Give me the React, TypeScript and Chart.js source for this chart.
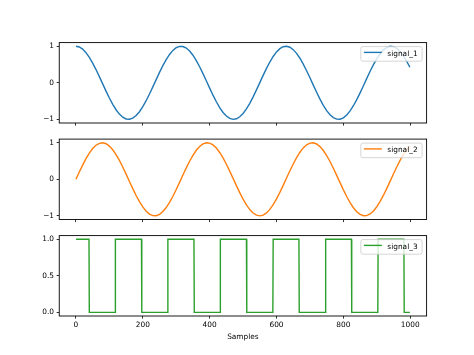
import React, { useEffect, useRef } from "react";
import { Chart, registerables } from "chart.js";

Chart.register(...registerables);

// ---- data ----
const sampleX = [
  0, 10, 20, 30, 40, 50, 60, 70, 80, 90,
  100, 110, 120, 130, 140, 150, 160, 170, 180, 190,
  200, 210, 220, 230, 240, 250, 260, 270, 280, 290,
  300, 310, 320, 330, 340, 350, 360, 370, 380, 390,
  400, 410, 420, 430, 440, 450, 460, 470, 480, 490,
  500, 510, 520, 530, 540, 550, 560, 570, 580, 590,
  600, 610, 620, 630, 640, 650, 660, 670, 680, 690,
  700, 710, 720, 730, 740, 750, 760, 770, 780, 790,
  800, 810, 820, 830, 840, 850, 860, 870, 880, 890,
  900, 910, 920, 930, 940, 950, 960, 970, 980, 990, 999,
];

const signal1 = [
  1.0, 0.98, 0.921, 0.825, 0.697, 0.54, 0.362, 0.17, -0.029, -0.227,
  -0.416, -0.589, -0.737, -0.857, -0.942, -0.99, -0.998, -0.967, -0.897, -0.791,
  -0.654, -0.49, -0.307, -0.112, 0.087, 0.284, 0.469, 0.635, 0.776, 0.886,
  0.96, 0.997, 0.993, 0.95, 0.869, 0.754, 0.608, 0.439, 0.251, 0.054,
  -0.146, -0.339, -0.519, -0.679, -0.811, -0.911, -0.975, -1.0, -0.985, -0.93,
  -0.839, -0.714, -0.561, -0.385, -0.194, 0.004, 0.203, 0.393, 0.568, 0.72,
  0.844, 0.934, 0.986, 0.999, 0.973, 0.907, 0.806, 0.672, 0.512, 0.331,
  0.137, -0.063, -0.26, -0.447, -0.615, -0.76, -0.874, -0.953, -0.994, -0.996,
  -0.958, -0.881, -0.77, -0.628, -0.461, -0.275, -0.079, 0.121, 0.316, 0.498,
  0.66, 0.796, 0.901, 0.969, 0.999, 0.989, 0.939, 0.852, 0.732, 0.581, 0.426,
];

const signal2 = [
  0.0, 0.199, 0.389, 0.565, 0.717, 0.841, 0.932, 0.985, 1.0, 0.974,
  0.909, 0.808, 0.675, 0.516, 0.335, 0.141, -0.058, -0.256, -0.443, -0.612,
  -0.757, -0.872, -0.952, -0.994, -0.996, -0.959, -0.883, -0.773, -0.631, -0.465,
  -0.279, -0.083, 0.117, 0.312, 0.494, 0.657, 0.794, 0.899, 0.968, 0.999,
  0.989, 0.941, 0.855, 0.734, 0.585, 0.412, 0.223, 0.025, -0.174, -0.366,
  -0.544, -0.7, -0.828, -0.923, -0.981, -1.0, -0.979, -0.919, -0.823, -0.694,
  -0.537, -0.358, -0.166, 0.034, 0.232, 0.42, 0.592, 0.74, 0.859, 0.944,
  0.991, 0.998, 0.966, 0.895, 0.788, 0.65, 0.487, 0.303, 0.108, -0.092,
  -0.288, -0.472, -0.638, -0.778, -0.888, -0.961, -0.997, -0.993, -0.949, -0.867,
  -0.751, -0.605, -0.435, -0.247, -0.05, 0.15, 0.343, 0.523, 0.682, 0.814, 0.905,
];

const signal3X = [
  0, 39, 40, 117, 118, 196, 197, 274, 275, 353, 354, 431, 432, 510,
  511, 589, 590, 667, 668, 746, 747, 824, 825, 903, 904, 981, 982, 999,
];
const signal3Y = [
  1, 1, 0, 0, 1, 1, 0, 0, 1, 1, 0, 0, 1, 1,
  0, 0, 1, 1, 0, 0, 1, 1, 0, 0, 1, 1, 0, 0,
];

const seriesNames = ["signal_1", "signal_2", "signal_3"];
const seriesColors = ["#1f77b4", "#ff7f0e", "#2ca02c"];

const xTicks = [0, 200, 400, 600, 800, 1000];
const xTickLabels = ["0", "200", "400", "600", "800", "1000"];
const yTicksWave = [-1, 0, 1];
const yTickLabelsWave = ["\u22121", "0", "1"];
const yTicksSquare = [0, 0.5, 1];
const yTickLabelsSquare = ["0.0", "0.5", "1.0"];
const xTitle = "Samples";

// ---- styling ----
const FONT = "DejaVu Sans";
const FS = 7.4;
const W = 474;
const PLOT_LEFT = 59.25;
const PLOT_RIGHT = 426.6;
const X_MIN = -49.95;
const X_MAX = 1048.95;
const LINE_W = 1.4;

const frameAndLegend = {
  id: "frameAndLegend",
  afterDraw(chart: any) {
    const { ctx, chartArea: a } = chart;
    ctx.save();
    ctx.strokeStyle = "#000";
    ctx.lineWidth = 0.9;
    ctx.strokeRect(a.left, a.top, a.right - a.left, a.bottom - a.top);

    const ds = chart.data.datasets[0];
    const label: string = ds.label;
    ctx.font = `${FS}px "${FONT}"`;
    const tw = ctx.measureText(label).width;
    const w = tw + 31;
    const h = 14.6;
    const x0 = a.right - 4.5 - w;
    const y0 = a.top + 4;
    const r = 2;
    ctx.beginPath();
    ctx.moveTo(x0 + r, y0);
    ctx.lineTo(x0 + w - r, y0);
    ctx.quadraticCurveTo(x0 + w, y0, x0 + w, y0 + r);
    ctx.lineTo(x0 + w, y0 + h - r);
    ctx.quadraticCurveTo(x0 + w, y0 + h, x0 + w - r, y0 + h);
    ctx.lineTo(x0 + r, y0 + h);
    ctx.quadraticCurveTo(x0, y0 + h, x0, y0 + h - r);
    ctx.lineTo(x0, y0 + r);
    ctx.quadraticCurveTo(x0, y0, x0 + r, y0);
    ctx.closePath();
    ctx.fillStyle = "rgba(255,255,255,0.8)";
    ctx.fill();
    ctx.strokeStyle = "#cccccc";
    ctx.lineWidth = 0.8;
    ctx.stroke();

    ctx.beginPath();
    ctx.moveTo(x0 + 3, y0 + 5.8);
    ctx.lineTo(x0 + 21, y0 + 5.8);
    ctx.strokeStyle = ds.borderColor;
    ctx.lineWidth = LINE_W;
    ctx.stroke();

    ctx.fillStyle = "#000";
    ctx.textBaseline = "alphabetic";
    ctx.textAlign = "left";
    ctx.fillText(label, x0 + 26.5, y0 + 8.9);
    ctx.restore();
  },
};

type PanelProps = {
  top: number;
  height: number;
  padTop: number;
  xAxisHeight: number;
  xs: number[];
  ys: number[];
  name: string;
  color: string;
  yMin: number;
  yMax: number;
  yTicks: number[];
  yLabels: string[];
  showX: boolean;
};

function Panel(p: PanelProps) {
  const ref = useRef<HTMLCanvasElement | null>(null);
  useEffect(() => {
    if (!ref.current) return;
    const points = p.xs.map((x, i) => ({ x, y: p.ys[i] }));
    const chart = new Chart(ref.current, {
      type: "line",
      data: {
        datasets: [
          {
            label: p.name,
            data: points,
            borderColor: p.color,
            backgroundColor: p.color,
            borderWidth: LINE_W,
            pointRadius: 0,
            tension: 0,
            fill: false,
          },
        ],
      },
      options: {
        animation: false,
        responsive: false,
        devicePixelRatio: 1,
        events: [],
        layout: {
          padding: { left: 0, right: W - PLOT_RIGHT, top: p.padTop, bottom: 0 },
        },
        plugins: {
          legend: { display: false },
          tooltip: { enabled: false },
        },
        scales: {
          x: {
            type: "linear",
            min: X_MIN,
            max: X_MAX,
            afterBuildTicks: (scale: any) => {
              scale.ticks = xTicks.map((v) => ({ value: v }));
            },
            afterFit: (scale: any) => {
              scale.height = p.xAxisHeight;
            },
            border: { display: false },
            grid: {
              drawOnChartArea: false,
              drawTicks: true,
              tickLength: 2.6,
              tickColor: "#000",
              tickWidth: 0.8,
            },
            ticks: {
              display: p.showX,
              padding: 1.6,
              maxRotation: 0,
              autoSkip: false,
              color: "#000",
              font: { family: FONT, size: FS },
              callback: (_v: any, i: number) => xTickLabels[i],
            },
            title: {
              display: p.showX,
              text: xTitle,
              color: "#000",
              font: { family: FONT, size: FS },
              padding: { top: 0, bottom: 13.9 },
            },
          },
          y: {
            type: "linear",
            min: p.yMin,
            max: p.yMax,
            afterBuildTicks: (scale: any) => {
              scale.ticks = p.yTicks.map((v) => ({ value: v }));
            },
            afterFit: (scale: any) => {
              scale.width = PLOT_LEFT;
            },
            border: { display: false },
            grid: {
              drawOnChartArea: false,
              drawTicks: true,
              tickLength: 2.6,
              tickColor: "#000",
              tickWidth: 0.8,
            },
            ticks: {
              padding: 2.6,
              autoSkip: false,
              color: "#000",
              font: { family: FONT, size: FS },
              callback: (_v: any, i: number) => p.yLabels[i],
            },
          },
        },
      },
      plugins: [frameAndLegend],
    } as any);
    return () => chart.destroy();
  }, []);
  return (
    <canvas
      ref={ref}
      width={W}
      height={p.height}
      style={{ position: "absolute", left: 0, top: p.top, width: W, height: p.height }}
    />
  );
}

export default function App() {
  return (
    <div
      style={{
        position: "absolute",
        left: 0,
        top: 0,
        width: W,
        height: 355,
        background: "#fff",
        overflow: "hidden",
      }}
    >
      <Panel
        top={0}
        height={131}
        padTop={42.6}
        xAxisHeight={8}
        xs={sampleX}
        ys={signal1}
        name={seriesNames[0]}
        color={seriesColors[0]}
        yMin={-1.1}
        yMax={1.1}
        yTicks={yTicksWave}
        yLabels={yTickLabelsWave}
        showX={false}
      />
      <Panel
        top={131}
        height={96}
        padTop={8.1}
        xAxisHeight={7.5}
        xs={sampleX}
        ys={signal2}
        name={seriesNames[1]}
        color={seriesColors[1]}
        yMin={-1.1}
        yMax={1.1}
        yTicks={yTicksWave}
        yLabels={yTickLabelsWave}
        showX={false}
      />
      <Panel
        top={227}
        height={128}
        padTop={8.6}
        xAxisHeight={39}
        xs={signal3X}
        ys={signal3Y}
        name={seriesNames[2]}
        color={seriesColors[2]}
        yMin={-0.05}
        yMax={1.05}
        yTicks={yTicksSquare}
        yLabels={yTickLabelsSquare}
        showX={true}
      />
    </div>
  );
}
